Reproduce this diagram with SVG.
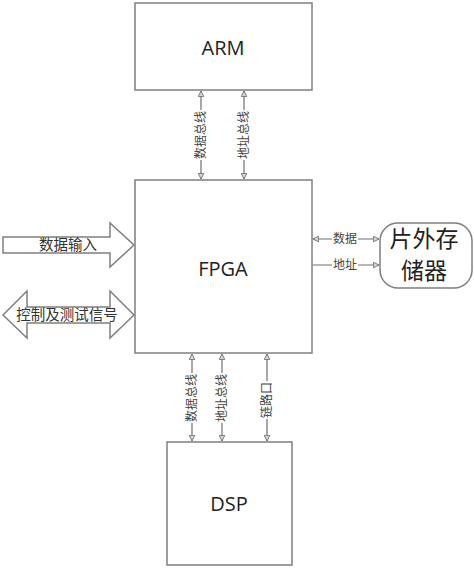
<svg xmlns="http://www.w3.org/2000/svg" width="474" height="571" viewBox="0 0 474 571">
<style>
.box{fill:#fff;stroke:#7f7f7f;stroke-width:1.5}
.big{font-family:"Open Sans","Liberation Sans",sans-serif;font-size:20px;fill:#222;text-anchor:middle;dominant-baseline:central}
.lbl{font-family:"Liberation Serif","Noto Sans CJK SC",serif;font-size:12px;fill:#444;text-anchor:middle;dominant-baseline:central}
.cn{font-family:"Liberation Serif","Noto Sans CJK SC",serif;font-size:14.5px;fill:#333;text-anchor:middle;dominant-baseline:central}
.st{font-family:"Noto Sans CJK SC",sans-serif;font-size:23px;fill:#222;text-anchor:middle;dominant-baseline:central}
.ln{stroke:#6f6f6f;stroke-width:1.2;fill:none}
.bg{fill:#fff}
</style>
<defs>
<marker id="ah" viewBox="0 0 10 10" refX="9" refY="5" markerWidth="7" markerHeight="7" orient="auto-start-reverse" markerUnits="userSpaceOnUse">
<path d="M1,1 L9,5 L1,9 Z" fill="#d8d8d8" stroke="#6f6f6f" stroke-width="1.3"/>
</marker>
</defs>
<g id="connectors">
<line class="ln" x1="201" y1="91" x2="201" y2="179" marker-start="url(#ah)" marker-end="url(#ah)"/>
<line class="ln" x1="244" y1="91" x2="244" y2="179" marker-start="url(#ah)" marker-end="url(#ah)"/>
<line class="ln" x1="192" y1="354" x2="192" y2="441" marker-start="url(#ah)" marker-end="url(#ah)"/>
<line class="ln" x1="222" y1="354" x2="222" y2="441" marker-start="url(#ah)" marker-end="url(#ah)"/>
<line class="ln" x1="267" y1="354" x2="267" y2="441" marker-start="url(#ah)" marker-end="url(#ah)"/>
<line class="ln" x1="313" y1="239" x2="379" y2="239" marker-start="url(#ah)" marker-end="url(#ah)"/>
<line class="ln" x1="313" y1="265" x2="379" y2="265" marker-end="url(#ah)"/>
<g transform="translate(201,135) rotate(-90)"><rect class="bg" x="-25" y="-7" width="50" height="14"/><text class="lbl" x="0" y="0">数据总线</text></g>
<g transform="translate(244,135) rotate(-90)"><rect class="bg" x="-25" y="-7" width="50" height="14"/><text class="lbl" x="0" y="0">地址总线</text></g>
<g transform="translate(192,398) rotate(-90)"><rect class="bg" x="-25" y="-7" width="50" height="14"/><text class="lbl" x="0" y="0">数据总线</text></g>
<g transform="translate(222,398) rotate(-90)"><rect class="bg" x="-25" y="-7" width="50" height="14"/><text class="lbl" x="0" y="0">地址总线</text></g>
<g transform="translate(267,400) rotate(-90)"><rect class="bg" x="-19" y="-7" width="38" height="14"/><text class="lbl" x="0" y="0">链路口</text></g>
<rect class="bg" x="332" y="232" width="26" height="14"/><text class="lbl" x="345" y="239">数据</text>
<rect class="bg" x="332" y="258" width="26" height="14"/><text class="lbl" x="345" y="265">地址</text>
</g>
<g id="arm"><rect class="box" x="135" y="3" width="177" height="87"/><text class="big" x="223" y="47">ARM</text></g>
<g id="fpga"><rect class="box" x="135" y="180" width="177" height="173"/><text class="big" x="223" y="268">FPGA</text></g>
<g id="dsp"><rect class="box" x="167" y="442" width="125" height="123"/><text class="big" x="229" y="503">DSP</text></g>
<g id="storage"><rect class="box" x="380" y="223" width="92" height="65" rx="18" ry="18"/><text class="st" x="424" y="237">片外存</text><text class="st" x="424" y="269">储器</text></g>
<g id="data-input"><path class="box" d="M3,237 L110,237 L110,223 L134,245 L110,267 L110,253 L3,253 Z"/><text class="cn" x="68" y="245">数据输入</text></g>
<g id="control"><path class="box" d="M3,315 L27,291 L27,307 L110,307 L110,291 L134,315 L110,338 L110,323 L27,323 L27,338 Z"/><text class="cn" x="67" y="315">控制及测试信号</text></g>
</svg>
